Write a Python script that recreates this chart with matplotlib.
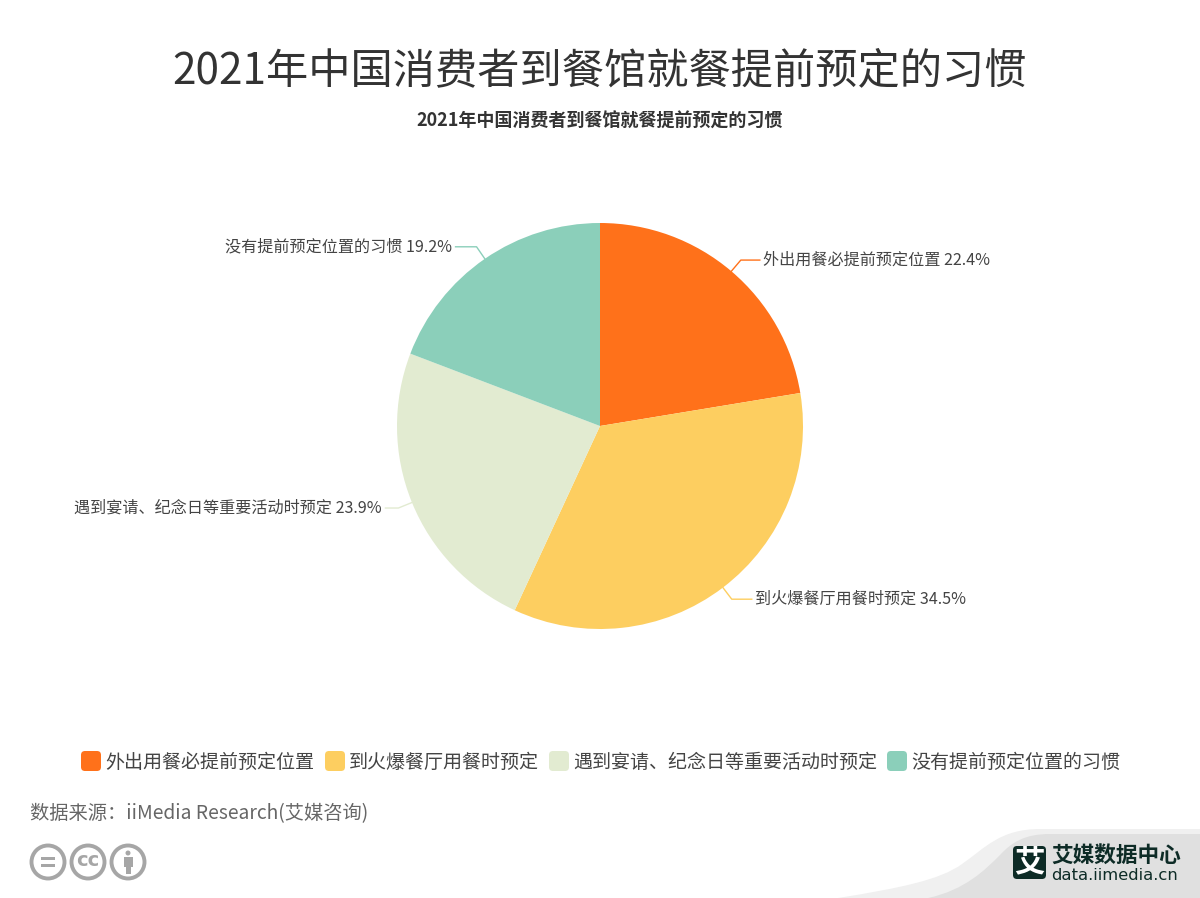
import numpy as np
import matplotlib
matplotlib.use('Agg')
from matplotlib import pyplot as plt
from matplotlib.patches import FancyBboxPatch, Circle, PathPatch, Rectangle
from matplotlib.path import Path

plt.rcParams['font.family'] = ['Noto Sans CJK SC', 'DejaVu Sans']

title = '2021年中国消费者到餐馆就餐提前预定的习惯'
categories = ['外出用餐必提前预定位置', '到火爆餐厅用餐时预定', '遇到宴请、纪念日等重要活动时预定', '没有提前预定位置的习惯']
values = [22.4, 34.5, 23.9, 19.2]
colors = ['#ff711a', '#fdce60', '#e2ebd1', '#8bcfba']
legend_x = [81, 325, 549, 887]
leader_len = [19, 20, 13, 21]

W, H = 1200, 898
R = 203
fig = plt.figure(figsize=(W / 100, H / 100), dpi=100)

# full figure axes in pixels, for everything around the pie
bg = fig.add_axes([0, 0, 1, 1])
bg.set_xlim(0, W)
bg.set_ylim(H, 0)
bg.axis('off')

# grey swoosh bottom right
light = [(Path.MOVETO, (838, 898)), (Path.CURVE4, (900, 888)), (Path.CURVE4, (940, 880)), (Path.CURVE4, (962, 864)),
         (Path.CURVE4, (985, 848)), (Path.CURVE4, (1000, 829)), (Path.CURVE4, (1040, 829)),
         (Path.LINETO, (1200, 829)), (Path.LINETO, (1200, 898)), (Path.CLOSEPOLY, (838, 898))]
dark = [(Path.MOVETO, (928, 898)), (Path.CURVE4, (965, 890)), (Path.CURVE4, (985, 870)), (Path.CURVE4, (1000, 855)),
        (Path.CURVE4, (1012, 842)), (Path.CURVE4, (1025, 834)), (Path.CURVE4, (1050, 834)),
        (Path.LINETO, (1200, 834)), (Path.LINETO, (1200, 898)), (Path.CLOSEPOLY, (928, 898))]
for verts, c in [(light, '#f0f0f0'), (dark, '#e0e0e0')]:
    codes, pts = zip(*verts)
    bg.add_patch(PathPatch(Path(pts, codes), fc=c, ec='none'))

bg.text(600, 71, title, fontsize=30.4, color='#333333', ha='center', va='center')
bg.text(600, 121, title, fontsize=13, color='#333333', ha='center', va='center', fontweight='bold')

# legend
for x, c, name in zip(legend_x, colors, categories):
    bg.add_patch(FancyBboxPatch((x + 3, 754), 14, 14, boxstyle='round,pad=3,rounding_size=4', fc=c, ec='none'))
    bg.text(x + 24, 762, name, fontsize=13.7, color='#444444', ha='left', va='center')

bg.text(30, 814, '数据来源：iiMedia Research(艾媒咨询)', fontsize=13.85, color='#666666', ha='left', va='center')

# cc icons
gray = '#a6a6a6'
for x in [48, 88, 128]:
    bg.add_patch(Circle((x, 862), 16.5, fc='white', ec=gray, lw=2.8))
bg.add_patch(Rectangle((41, 857), 14, 3, fc=gray, ec='none'))
bg.add_patch(Rectangle((41, 864), 14, 3, fc=gray, ec='none'))
bg.text(88, 861, 'cc', fontsize=14, color=gray, ha='center', va='center', fontweight='bold', family='DejaVu Sans')
bg.add_patch(Circle((128, 853), 2.5, fc=gray, ec='none'))
bg.add_patch(Rectangle((123.5, 857), 9, 10, fc=gray, ec='none'))
bg.add_patch(Rectangle((125.5, 866), 5, 8, fc=gray, ec='none'))

# logo
logo = '#0d2b26'
bg.add_patch(FancyBboxPatch((1015, 848), 29, 29, boxstyle='round,pad=2,rounding_size=4', fc=logo, ec='none'))
bg.text(1029.5, 862, '艾', fontsize=22, color='white', ha='center', va='center', fontweight='bold')
bg.text(1116, 855, '艾媒数据中心', fontsize=15.6, color=logo, ha='center', va='center', fontweight='bold')
bg.text(1115, 875, 'data.iimedia.cn', fontsize=11.8, color=logo, ha='center', va='center', family='DejaVu Sans')

# pie, axes is exactly the circle box
ax = fig.add_axes([(600 - R) / W, (H - 426 - R) / H, 2 * R / W, 2 * R / H])
wedges, _ = ax.pie(values, colors=colors, startangle=90, counterclock=False, radius=1,
                   wedgeprops={'linewidth': 0})
ax.set_xlim(-1, 1)
ax.set_ylim(-1, 1)

# leader lines and labels
for w, name, v, c, n in zip(wedges, categories, values, colors, leader_len):
    a = np.deg2rad((w.theta1 + w.theta2) / 2)
    x0, y0 = np.cos(a), np.sin(a)
    x1, y1 = x0 * 1.072, y0 * 1.072
    s = 1 if x0 > 0 else -1
    x2 = x1 + s * n / R
    ax.plot([x0, x1, x2], [y0, y1, y1], color=c, lw=1, clip_on=False)
    ax.text(x2 + s * 3.5 / R, y1, f'{name} {v}%', fontsize=11.6, color='#444444',
            ha='left' if s > 0 else 'right', va='center')

fig.savefig('out.png', dpi=100)
